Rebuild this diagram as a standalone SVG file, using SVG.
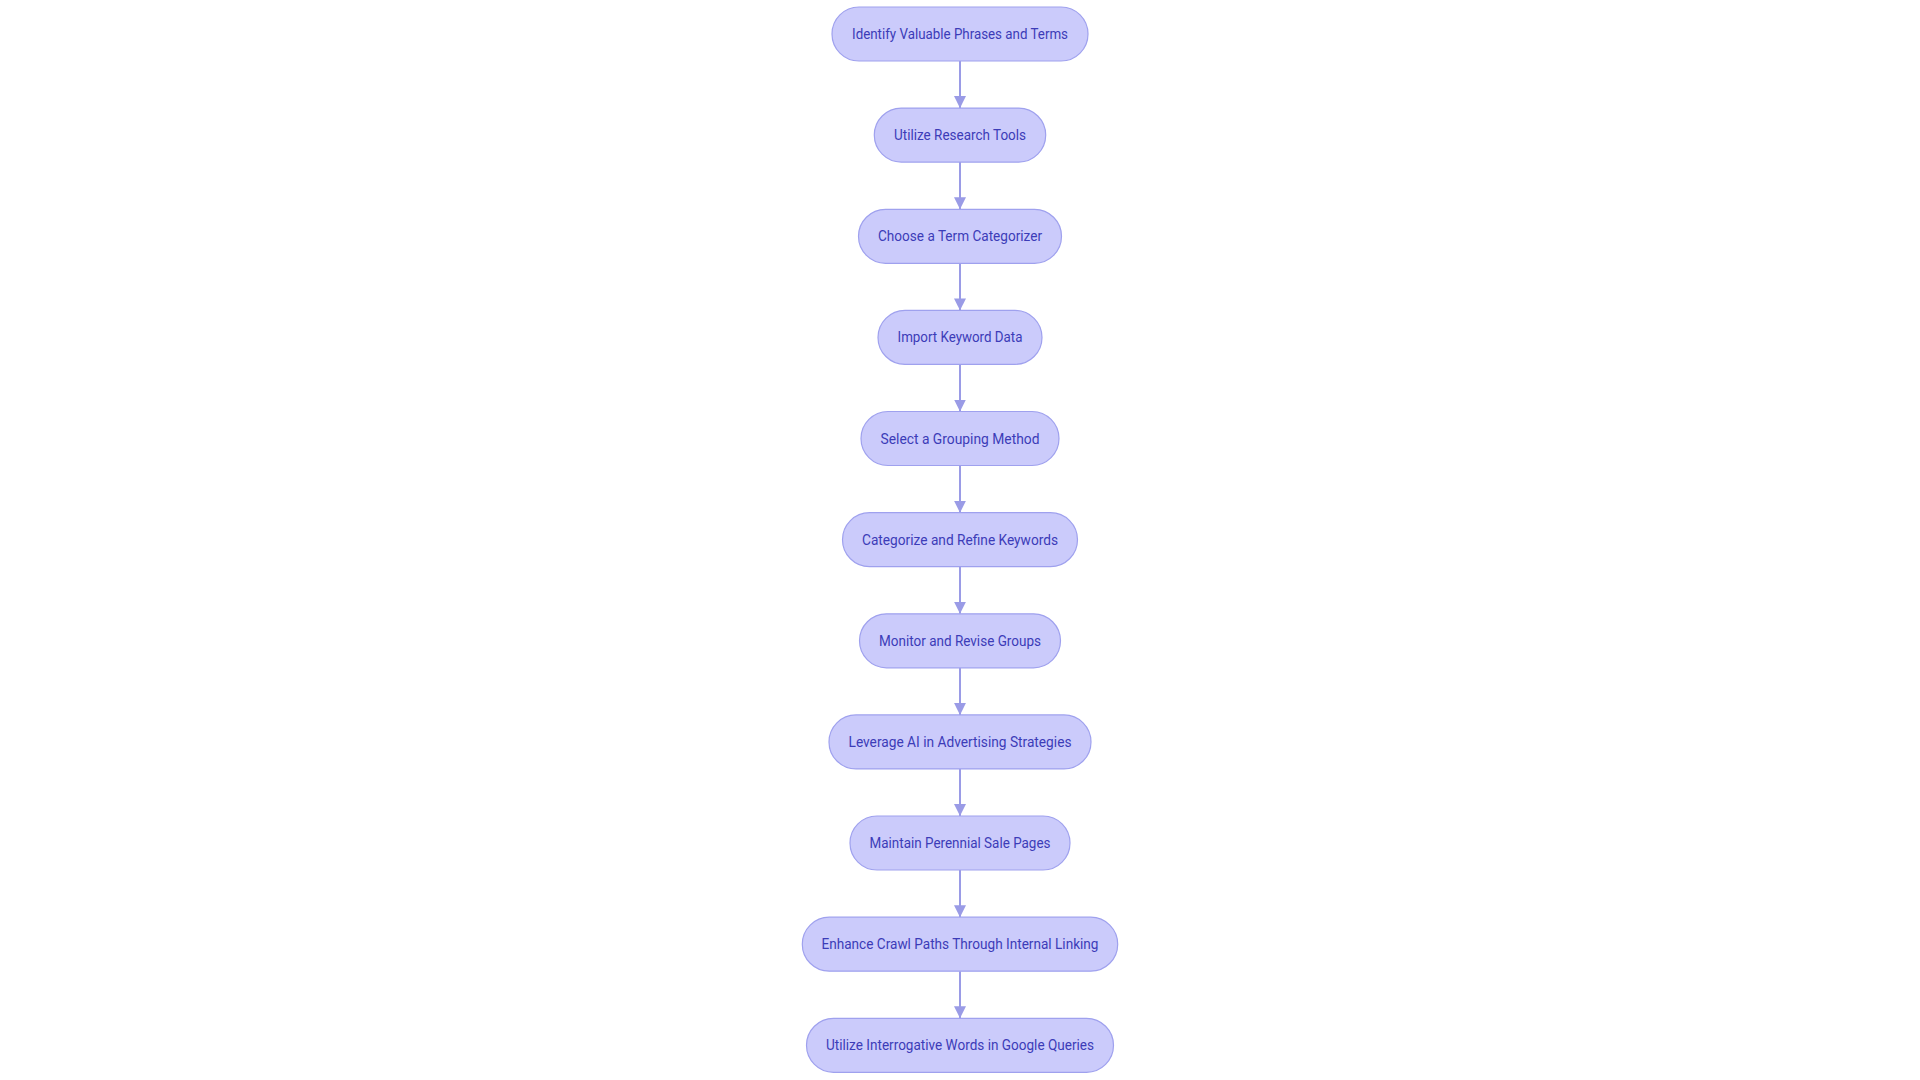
<svg xmlns="http://www.w3.org/2000/svg" width="1920" height="1080" viewBox="0 0 1920 1080">
<defs>
<style>
.node rect{fill:#cbcbfb;stroke:#9fa1ee;stroke-width:1.2}
.node text{font-family:Roboto,Inter,"Noto Sans","Liberation Sans",sans-serif;font-size:15px;fill:#3c3cb8;text-anchor:middle;dominant-baseline:central}
.edge{stroke:#9a9be6;stroke-width:2;fill:none;marker-end:url(#arrow)}
</style>
<marker id="arrow" viewBox="0 0 12 12" refX="12" refY="6" markerWidth="12" markerHeight="12" markerUnits="userSpaceOnUse" orient="auto">
<path d="M0,0 L12,6 L0,12 z" fill="#9a9be6"/>
</marker>
</defs>
<rect width="1920" height="1080" fill="#ffffff"/>
<g id="connectors">
<line class="edge" x1="960" y1="61" x2="960" y2="108.1"/>
<line class="edge" x1="960" y1="162.1" x2="960" y2="209.3"/>
<line class="edge" x1="960" y1="263.3" x2="960" y2="310.4"/>
<line class="edge" x1="960" y1="364.4" x2="960" y2="411.5"/>
<line class="edge" x1="960" y1="465.5" x2="960" y2="512.7"/>
<line class="edge" x1="960" y1="566.7" x2="960" y2="613.8"/>
<line class="edge" x1="960" y1="667.8" x2="960" y2="714.9"/>
<line class="edge" x1="960" y1="768.9" x2="960" y2="816"/>
<line class="edge" x1="960" y1="870" x2="960" y2="917.2"/>
<line class="edge" x1="960" y1="971.2" x2="960" y2="1018.3"/>
</g>
<g id="n1" class="node"><rect x="832" y="7" width="256" height="54" rx="27"/><text x="960" y="34" textLength="216" lengthAdjust="spacingAndGlyphs">Identify Valuable Phrases and Terms</text></g>
<g id="n2" class="node"><rect x="874.3" y="108.1" width="171.4" height="54" rx="27"/><text x="960" y="135.1" textLength="132" lengthAdjust="spacingAndGlyphs">Utilize Research Tools</text></g>
<g id="n3" class="node"><rect x="858.5" y="209.3" width="203" height="54" rx="27"/><text x="960" y="236.3" textLength="164" lengthAdjust="spacingAndGlyphs">Choose a Term Categorizer</text></g>
<g id="n4" class="node"><rect x="878" y="310.4" width="164" height="54" rx="27"/><text x="960" y="337.4" textLength="125" lengthAdjust="spacingAndGlyphs">Import Keyword Data</text></g>
<g id="n5" class="node"><rect x="861" y="411.5" width="198" height="54" rx="27"/><text x="960" y="438.5" textLength="159" lengthAdjust="spacingAndGlyphs">Select a Grouping Method</text></g>
<g id="n6" class="node"><rect x="842.5" y="512.7" width="235" height="54" rx="27"/><text x="960" y="539.7" textLength="196" lengthAdjust="spacingAndGlyphs">Categorize and Refine Keywords</text></g>
<g id="n7" class="node"><rect x="859.5" y="613.8" width="201" height="54" rx="27"/><text x="960" y="640.8" textLength="162" lengthAdjust="spacingAndGlyphs">Monitor and Revise Groups</text></g>
<g id="n8" class="node"><rect x="829" y="714.9" width="262" height="54" rx="27"/><text x="960" y="741.9" textLength="223" lengthAdjust="spacingAndGlyphs">Leverage AI in Advertising Strategies</text></g>
<g id="n9" class="node"><rect x="850" y="816" width="220" height="54" rx="27"/><text x="960" y="843" textLength="181" lengthAdjust="spacingAndGlyphs">Maintain Perennial Sale Pages</text></g>
<g id="n10" class="node"><rect x="802.3" y="917.2" width="315.4" height="54" rx="27"/><text x="960" y="944.2" textLength="277" lengthAdjust="spacingAndGlyphs">Enhance Crawl Paths Through Internal Linking</text></g>
<g id="n11" class="node"><rect x="806.5" y="1018.3" width="307" height="54" rx="27"/><text x="960" y="1045.3" textLength="268" lengthAdjust="spacingAndGlyphs">Utilize Interrogative Words in Google Queries</text></g>
</svg>
